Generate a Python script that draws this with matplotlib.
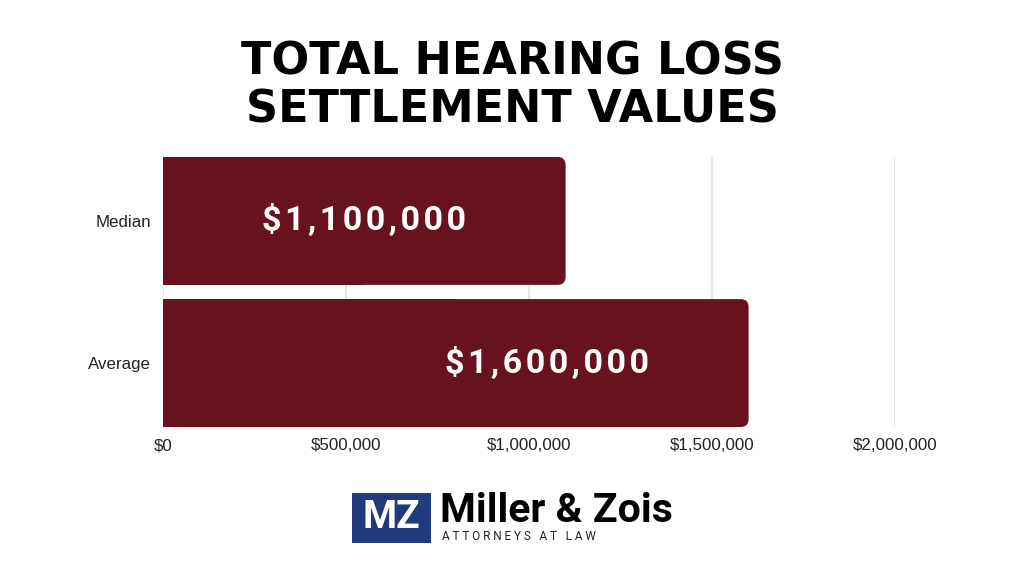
import matplotlib.pyplot as plt
from matplotlib.patches import FancyBboxPatch, Rectangle
from matplotlib.ticker import FuncFormatter

categories = ["Median", "Average"]
values = [1100000, 1600000]
value_labels = ["$1,100,000", "$1,600,000"]
xticks = [0, 500000, 1000000, 1500000, 2000000]

BAR = "#69121f"
NAVY = "#1f3a7d"

fig = plt.figure(figsize=(10.24, 5.76), dpi=100)
W, H = 1024, 576
ax = fig.add_axes([163 / W, 1 - 427 / H, 732 / W, 270 / H])

ax.set_xlim(0, 2000000)
ax.set_ylim(1.45, -0.45)

# rounded right end: size radius in pixels, convert to data units
x_per_px = 2000000 / 732
y_per_px = 1.9 / 270
r_px = 8
bar_h = 0.9
for i, v in enumerate(values):
    y0 = i - bar_h / 2
    p = FancyBboxPatch((0, y0), v, bar_h,
                       boxstyle="round,pad=0,rounding_size=%f" % (r_px * x_per_px),
                       mutation_aspect=y_per_px / x_per_px,
                       fc=BAR, ec="none", zorder=2)
    ax.add_patch(p)
    ax.add_patch(Rectangle((0, y0), v / 2, bar_h, fc=BAR, ec="none", zorder=2))
    # hair spaces to mimic the letter spacing
    spaced = "\u200a".join(value_labels[i])
    ax.annotate(spaced, (v, i), xytext=(-72, 0), textcoords="offset points",
                ha="right", va="center", color="white", fontsize=24.5,
                family=["Roboto", "DejaVu Sans"], fontweight="bold", zorder=3)

ax.set_yticks(range(len(categories)))
ax.set_yticklabels(categories)
ax.set_xticks(xticks)
ax.xaxis.set_major_formatter(FuncFormatter(lambda x, p: "${:,.0f}".format(x)))
ax.tick_params(length=0, labelsize=12.2, labelcolor="#222222")
ax.tick_params(axis="y", pad=8.5)
ax.tick_params(axis="x", pad=8)
for lab in ax.get_xticklabels() + ax.get_yticklabels():
    lab.set_fontfamily("Liberation Sans")
ax.grid(axis="x", color="#e3e3e3", lw=1.2, zorder=0)
ax.set_axisbelow(True)
for s in ax.spines.values():
    s.set_visible(False)

# title
title_kw = dict(ha="center", va="center", fontsize=32, fontweight="heavy",
                fontfamily="DejaVu Sans", color="black")
fig.text(512 / W, 1 - 62 / H, "TOTAL HEARING LOSS", **title_kw)
fig.text(512 / W, 1 - 110 / H, "SETTLEMENT VALUES", **title_kw)

# logo
fig.patches.append(Rectangle((352 / W, 1 - 543 / H), 79 / W, 50 / H,
                             transform=fig.transFigure, fc=NAVY, ec="none"))
fig.text(391 / W, 1 - 518 / H, "MZ", ha="center", va="center", color="white",
         fontsize=28, fontweight="bold", fontfamily="Roboto")
fig.text(440 / W, 1 - 511 / H, "Miller & Zois", ha="left", va="center", color="black",
         fontsize=29.5, fontweight="bold", fontfamily="Roboto")
fig.text(442 / W, 1 - 537 / H, "A T T O R N E Y S   A T   L A W", ha="left", va="center",
         color="#222222", fontsize=8.5, fontfamily="Roboto")

fig.savefig("out.png", dpi=100)
